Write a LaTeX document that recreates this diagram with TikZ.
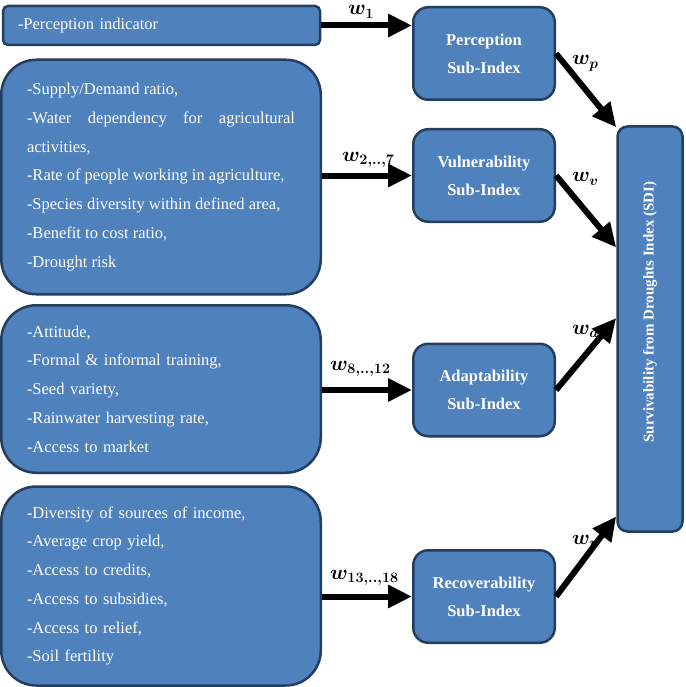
\documentclass[tikz,border=0pt]{standalone}
\usepackage{fontspec}
\setmainfont{Liberation Serif}
\usepackage{amsmath}
\usepackage{bm}
\usepackage{graphicx}
\usepackage{xcolor}
\usetikzlibrary{arrows.meta}
\usetikzlibrary{calc}

\definecolor{boxblue}{HTML}{4F81BD}
\definecolor{boxline}{HTML}{233E5F}

\begin{document}
\begin{tikzpicture}[x=1pt, y=-1pt,
indbox/.style={draw=boxline, fill=boxblue, line width=2.5pt, text=white, font=\fontsize{16.5}{28.7}\selectfont},
subbox/.style={draw=boxline, fill=boxblue, line width=2.5pt, text=white, rounded corners=15pt, minimum width=141.5pt, minimum height=92.5pt, align=center, font=\bfseries\fontsize{16.5}{28}\selectfont},
sdibox/.style={draw=boxline, fill=boxblue, line width=2.5pt, text=white, rounded corners=10pt, minimum width=65pt, minimum height=405pt, font=\bfseries\fontsize{15}{18}\selectfont},
wgtarrow/.style={line width=6pt, -{Triangle[length=24pt, width=22pt]}},
wlab/.style={anchor=base west, inner sep=0pt, font=\fontsize{21}{24}\selectfont}]

\useasboundingbox (0,0) rectangle (685,687);

%indicator boxes%
\node[indbox, rounded corners=5pt, minimum width=317pt, minimum height=39pt, text width=287pt, align=left] (ind-perc) at (161.5,25.5) {-Perception indicator};

\node[indbox, rounded corners=35pt, minimum width=319.5pt, minimum height=234.5pt, text width=268pt, align=justify] (ind-vuln) at (161,177) {-Supply/Demand ratio,\\
-Water dependency for agricultural\linebreak activities,\\
-Rate of people working in agriculture,\\
-Species diversity within defined area,\\
-Benefit to cost ratio,\\
-Drought risk};

\node[indbox, rounded corners=35pt, minimum width=319.5pt, minimum height=167.5pt, text width=268pt, align=left] (ind-adapt) at (161,389) {-Attitude,\\
-Formal \& informal training,\\
-Seed variety,\\
-Rainwater harvesting rate,\\
-Access to market};

\node[indbox, rounded corners=35pt, minimum width=319.5pt, minimum height=199pt, text width=268pt, align=left] (ind-recov) at (161,586) {-Diversity of sources of income,\\
-Average crop yield,\\
-Access to credits,\\
-Access to subsidies,\\
-Access to relief,\\
-Soil fertility};

%sub-index boxes%
\node[subbox] (sub-perc) at (484,53.5) {Perception\\ Sub-Index};
\node[subbox] (sub-vuln) at (484,175.5) {Vulnerability\\ Sub-Index};
\node[subbox] (sub-adapt) at (484,390) {Adaptability\\ Sub-Index};
\node[subbox] (sub-recov) at (484,596.5) {Recoverability\\ Sub-Index};

%final index%
\node[sdibox] (sdi) at (650,329) {\rotatebox{90}{\hspace*{34pt}Survivability from Droughts Index (SDI)}};

%indicator weights%
\draw[wgtarrow] (ind-perc.east) -- (ind-perc.east -| sub-perc.west);
\foreach \s in {vuln,adapt,recov} \draw[wgtarrow] (sub-\s.west -| ind-\s.east) -- (sub-\s.west);

%sub-index weights%
\foreach \s/\f in {perc/0.005, vuln/0.30, adapt/0.473, recov/0.96} \draw[wgtarrow] 
(sub-\s.east) -- ($(sdi.north west)!\f!(sdi.south west)$);

%weight labels%
\node[wlab] (w-perc) at (348,15) {$\bm{w_{1}}$};
\node[wlab] (w-vuln) at (342,161) {$\bm{w_{2,..,7}}$};
\node[wlab] (w-adapt) at (330,370) {$\bm{w_{8,..,12}}$};
\node[wlab] (w-recov) at (330,579) {$\bm{w_{13,..,18}}$};
\node[wlab] (w-p) at (572,65) {$\bm{w_{p}}$};
\node[wlab] (w-v) at (572,182) {$\bm{w_{v}}$};
\node[wlab] (w-a) at (572,334) {$\bm{w_{a}}$};
\node[wlab] (w-r) at (572,544) {$\bm{w_{r}}$};

\end{tikzpicture}
\end{document}
